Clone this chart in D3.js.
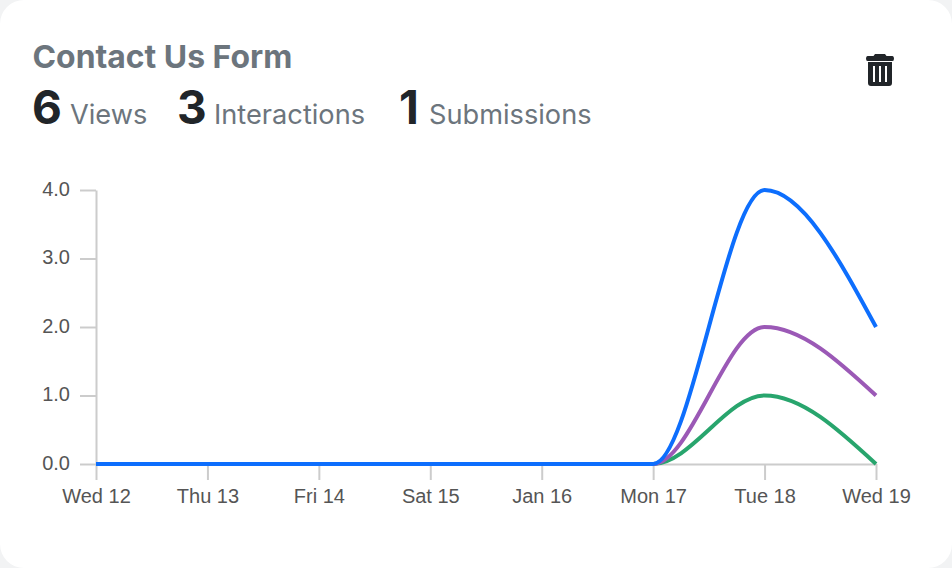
<!DOCTYPE html>
<html>
<head>
<meta charset="utf-8">
<script src="https://cdn.jsdelivr.net/npm/d3@7"></script>
<style>
html, body { margin: 0; padding: 0; background: #f2f3f4; }
svg { display: block; }
.title { font-family: Inter; font-weight: 700; font-size: 31.9px; fill: #6c757d; }
.count { font-family: Inter; font-weight: 700; font-size: 46px; fill: #212529; }
.label { font-family: Inter; font-weight: 400; font-size: 27.2px; fill: #6c757d; }
.tick text { font-family: "Liberation Sans"; font-size: 20px; fill: #555; }
.tick line, .domain { stroke: #ccc; stroke-width: 2; }
</style>
</head>
<body>
<script>
var days = ["Wed 12", "Thu 13", "Fri 14", "Sat 15", "Jan 16", "Mon 17", "Tue 18", "Wed 19"];
var views = [0, 0, 0, 0, 0, 0, 4, 2];
var interactions = [0, 0, 0, 0, 0, 0, 2, 1];
var submissions = [0, 0, 0, 0, 0, 0, 1, 0];
var yTicks = [0, 1, 2, 3, 4];

var seriesNames = ["Submissions", "Interactions", "Views"];
var seriesValues = [submissions, interactions, views];
var seriesColors = ["#28a56d", "#9b59b6", "#0d6efd"];

var summaryNames = ["Views", "Interactions", "Submissions"];
var summaryCounts = [6, 3, 1];
var summaryX = [32, 177, 399]; // left edge of each counter
var labelX = [70, 214, 429]; // left edge of each counter's label

var svg = d3.select("body").append("svg")
    .attr("width", 952)
    .attr("height", 568);

// white card with rounded corners
svg.append("rect")
    .attr("width", 952)
    .attr("height", 568)
    .attr("rx", 24)
    .attr("fill", "#fff");

svg.append("text")
    .attr("class", "title")
    .attr("x", 32.5)
    .attr("y", 68)
    .text("Contact Us Form");

summaryCounts.forEach(function(c, i) {
    svg.append("text").attr("class", "count")
        .attr("x", summaryX[i]).attr("y", 124).text(c);
    svg.append("text").attr("class", "label")
        .attr("x", labelX[i]).attr("y", 124).text(summaryNames[i]);
});

// trash icon
svg.append("path")
    .attr("fill", "#212529")
    .attr("fill-rule", "evenodd")
    .attr("d", "M875,54 h10 l1.5,2 h6 a1.5,2.5 0 0 1 0,5 h-25 a1.5,2.5 0 0 1 0,-5 h6 z "
        + "M868,62 h24 v21 a3,3 0 0 1 -3,3 h-18 a3,3 0 0 1 -3,-3 z "
        + "M873,66 v16 h2 v-16 z M879,66 v16 h2 v-16 z M885,66 v16 h2 v-16 z");

var xScale = d3.scalePoint()
    .domain(days)
    .range([96, 876]);

var yScale = d3.scaleLinear()
    .domain([0, 4])
    .range([464, 190]);

svg.append("g")
    .attr("transform", "translate(0,464)")
    .call(d3.axisBottom(xScale).tickSize(16).tickSizeOuter(0).tickPadding(9));

var yAxis = svg.append("g")
    .attr("transform", "translate(96,0)")
    .call(d3.axisLeft(yScale).tickValues(yTicks).tickFormat(d3.format(".1f")).tickSize(16).tickSizeOuter(0).tickPadding(10));
yAxis.selectAll("text").attr("y", -1);

var line = d3.line()
    .x(function(d, i) { return xScale(days[i]); })
    .y(function(d) { return yScale(d); })
    .curve(d3.curveMonotoneX);

seriesValues.forEach(function(values, i) {
    svg.append("path")
        .attr("d", line(values))
        .attr("fill", "none")
        .attr("stroke", seriesColors[i])
        .attr("stroke-width", 4);
});
</script>
</body>
</html>
